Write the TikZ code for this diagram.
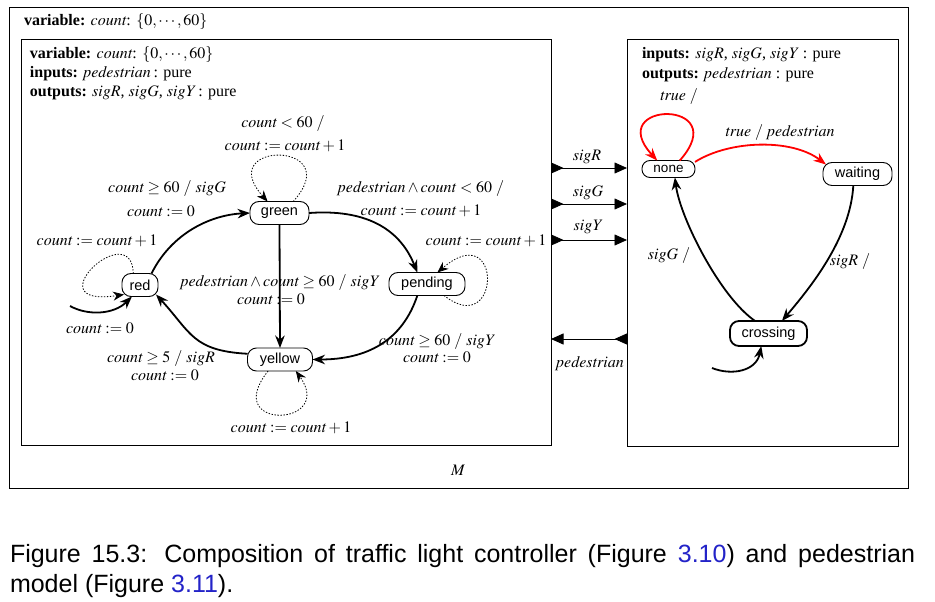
\documentclass[tikz,border=0pt]{standalone}
\usepackage{mathptmx}
\usepackage[no-math]{fontspec}
\setmainfont{Liberation Serif}
\setsansfont{Liberation Sans}
\usetikzlibrary{arrows.meta}

\definecolor{linkblue}{RGB}{35,35,200}
\newcommand{\vcount}{\mathit{count}}

\begin{document}
\begin{tikzpicture}[
    x=1pt, y=-1pt,
    every node/.style={inner sep=0pt, outer sep=0pt},
    box/.style={draw, line width=0.8pt},
    state/.style={draw, line width=0.9pt, rounded corners=9pt, minimum height=23pt,
        font=\sffamily\fontsize{14.5}{16}\selectfont},
    trans/.style={line width=1.8pt, -{Stealth[length=12.5pt, width=9.5pt]}},
    selfloop/.style={line width=0.8pt, dash pattern=on 1.4pt off 1.6pt,
        -{Stealth[length=11pt, width=9pt]}},
    port/.style={line width=0.8pt,
        {Triangle[reversed, length=12.5pt, width=11pt]}-{Triangle[length=12.5pt, width=11pt]}},
    lbl/.style={font=\fontsize{16}{18}\selectfont, align=center},
    head/.style={anchor=west, font=\fontsize{16}{18}\selectfont},
    caption/.style={anchor=base west, font=\sffamily\fontsize{25}{30}\selectfont},
]
  \fill[white] (0,0) rectangle (935,602);
  \useasboundingbox (0,0) rectangle (935,602);

  % START OF THE BOXES
  \node[box, minimum width=899pt, minimum height=481pt] (M) at (458.5,247.5) {};
  \node[box, minimum width=530pt, minimum height=406pt] (ctl) at (286,242) {};
  \node[box, minimum width=271pt, minimum height=407pt] (ped) at (762.5,242.5) {};

  \node[head] (mvar) at (24,22) {\textbf{variable:} $\vcount$: $\{0,\cdots,60\}$};
  \node[head] (cvar) at (30,55) {\textbf{variable:} $\vcount$: $\{0,\cdots,60\}$};
  \node[head] (cin) at (30,74) {\textbf{inputs:} $\mathit{pedestrian}$\,: pure};
  \node[head] (cout) at (30,93) {\textbf{outputs:} $\mathit{sigR}$, $\mathit{sigG}$, $\mathit{sigY}$\,: pure};
  \node[head] (pin) at (642,55) {\textbf{inputs:} $\mathit{sigR}$, $\mathit{sigG}$, $\mathit{sigY}$\ : pure};
  \node[head] (pout) at (642,75) {\textbf{outputs:} $\mathit{pedestrian}$\ : pure};
  \node[lbl] (mname) at (458,470) {$M$};

  % traffic light states
  \node[state, minimum width=59pt] (green) at (279.5,213) {green};
  \node[state, minimum width=36pt] (red) at (140,285) {red};
  \node[state, minimum width=76pt] (pending) at (427,284) {pending};
  \node[state, minimum width=65pt] (yellow) at (280,359.5) {yellow};

  % pedestrian states
  \node[state, minimum width=53pt, minimum height=17pt, rounded corners=8pt,
        font=\sffamily\fontsize{13.5}{15}\selectfont] (none) at (668.5,169) {none};
  \node[state, minimum width=69pt] (waiting) at (857.5,174) {waiting};
  \node[state, minimum width=77pt, minimum height=25pt, line width=1.8pt] (crossing) at (768.5,333.5) {crossing};

  \coordinate (redinit) at (70,306);
  \coordinate (crossinit) at (712,368);

  % transitions of the controller
  \draw[trans] (red.45) .. controls +(20,-40) and +(-40,2) .. (green.west);
  \draw[trans] (green.east) .. controls +(55,-4) and +(-18,-45) .. (pending.130);
  \draw[trans] (pending.230) .. controls +(-15,45) and +(55,0) .. (yellow.east);
  \draw[trans] (yellow.170) .. controls +(-55,-3) and +(35,38) .. ([shift={(-2,-2)}]red.south east);
  \draw[trans] (green.south) -- (yellow.north);
  \draw[trans] (redinit) .. controls +(18,10) and +(-18,18) .. (red.235);

  \draw[selfloop] (green.40) .. controls +(55,-61) and +(-55,-61) .. (green.136);
  \draw[selfloop] (red.120) .. controls +(-2,-58) and +(-92,14) .. ([shift={(2,-2)}]red.south west);
  \draw[selfloop] (pending.-34) .. controls +(57,45) and +(66,-56) .. (pending.48);
  \draw[selfloop] (yellow.224) .. controls +(-48,60) and +(40,56) .. (yellow.324);

  % transitions of the pedestrian
  \draw[trans, red] (none.37) .. controls +(55,-62) and +(-55,-60) .. (none.143);
  \draw[trans, red] (none.15) .. controls +(35,-22) and +(-34,-26) .. ([shift={(3,2)}]waiting.north west);
  \draw[trans] (waiting.250) .. controls +(-3,53) and +(28,-33) .. (crossing.43);
  \draw[trans] (crossing.137) .. controls +(-35,-24) and +(5,40) .. (none.-53);
  \draw[trans] (crossinit) .. controls +(20,8) and +(-5,25) .. (crossing.240);

  % connections between the two machines
  \draw[port] (ctl.east |- 0,168) -- (ped.west |- 0,168);
  \draw[port] (ctl.east |- 0,204) -- (ped.west |- 0,204);
  \draw[port] (ctl.east |- 0,240) -- (ped.west |- 0,240);
  \draw[port] (ped.west |- 0,339) -- (ctl.east |- 0,339);

  % guards and actions
  \node[lbl] (gloopa) at (283,124) {$\vcount < 60\ /$};
  \node[lbl] (gloopb) at (285,146) {$\vcount := \vcount + 1$};
  \node[lbl] (rgreena) at (167,189) {$\vcount \geq 60\ /\ \mathit{sigG}$};
  \node[lbl] (rgreenb) at (161,211) {$\vcount := 0$};
  \node[lbl] (rloop) at (97,241) {$\vcount := \vcount + 1$};
  \node[lbl] (rinit) at (100,328) {$\vcount := 0$};
  \node[lbl] (gpenda) at (421,189) {$\mathit{pedestrian} \wedge \vcount < 60\ /$};
  \node[lbl] (gpendb) at (421,211) {$\vcount := \vcount + 1$};
  \node[lbl] (ploop) at (486,241) {$\vcount := \vcount + 1$};
  \node[lbl] (gyela) at (280,283) {$\mathit{pedestrian} \wedge \vcount \geq 60\ /\ \mathit{sigY}$};
  \node[lbl] (gyelb) at (271,299) {$\vcount := 0$};
  \node[lbl] (pyela) at (437,342) {$\vcount \geq 60\ /\ \mathit{sigY}$};
  \node[lbl] (pyelb) at (437,357) {$\vcount := 0$};
  \node[lbl] (yreda) at (161,359) {$\vcount \geq 5\ /\ \mathit{sigR}$};
  \node[lbl] (yredb) at (165,375) {$\vcount := 0$};
  \node[lbl] (yloop) at (291,428) {$\vcount := \vcount + 1$};

  \node[lbl] (nloop) at (679,97) {$\mathit{true}\ /$};
  \node[lbl] (nwait) at (780,133) {$\mathit{true}\ /\ \mathit{pedestrian}$};
  \node[lbl] (cnone) at (669,256) {$\mathit{sigG}\ /$};
  \node[lbl] (wcross) at (850,262) {$\mathit{sigR}\ /$};

  \node[lbl] (sigRl) at (587,157) {$\mathit{sigR}$};
  \node[lbl] (sigGl) at (588,193) {$\mathit{sigG}$};
  \node[lbl] (sigYl) at (588,227) {$\mathit{sigY}$};
  \node[lbl] (pedl) at (590,364) {$\mathit{pedestrian}$};

  % caption
  \node[caption] (capa) at (10,562) {\makebox[905pt][s]{Figure 15.3: Composition of traffic light controller (Figure \textcolor{linkblue}{3.10}) and pedestrian}};
  \node[caption] (capb) at (10,592) {model (Figure \textcolor{linkblue}{3.11}).};
\end{tikzpicture}
\end{document}
